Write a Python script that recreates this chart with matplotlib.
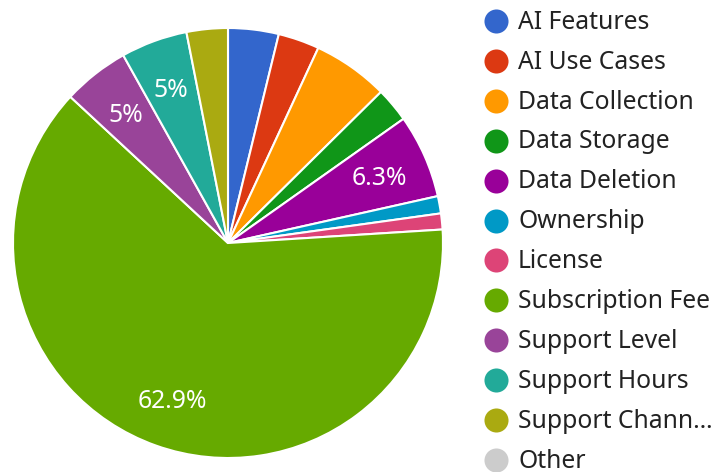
import matplotlib
matplotlib.use("Agg")
import matplotlib.pyplot as plt
import numpy as np

plt.rcParams['font.family'] = ['Noto Sans', 'DejaVu Sans']

# slice labels and shares (percent), clockwise from 12 o'clock
categorias = ["AI Features", "AI Use Cases", "Data Collection", "Data Storage",
              "Data Deletion", "Ownership", "License", "Subscription Fee",
              "Support Level", "Support Hours", "Support Chann…", "Other"]
valores = [3.8, 3.1, 5.7, 2.6, 6.3, 1.3, 1.2, 62.9, 5.0, 5.0, 3.1, 0.0]
cores = ["#3366cc", "#dc3912", "#ff9900", "#109618", "#990099", "#0099c6",
         "#dd4477", "#66aa00", "#994499", "#22aa99", "#aaaa11", "#cccccc"]
# only these slices get a percentage label in the original
rotulados = ["Data Deletion", "Subscription Fee", "Support Level", "Support Hours"]

fig = plt.figure(figsize=(7.12, 4.72), dpi=100)
W, H = 712, 472

# pie: center (228, 243) px, radius 215 px
cx, cy, r = 228, 243, 215
ax = fig.add_axes([(cx - r) / W, (H - cy - r) / H, 2 * r / W, 2 * r / H])

# pie only the non-empty slices
idx = [i for i, v in enumerate(valores) if v > 0]
vals = [valores[i] for i in idx]
wedges, _ = ax.pie(vals, colors=[cores[i] for i in idx], startangle=90,
                   counterclock=False, radius=1,
                   wedgeprops=dict(edgecolor="white", linewidth=1.5))

total = sum(vals)
acc = 0
for i, v in zip(idx, vals):
    meio = (acc + v / 2) / total
    acc += v
    if categorias[i] in rotulados:
        ang = np.pi / 2 - 2 * np.pi * meio
        d = 0.77
        txt = f"{valores[i]:g}%"
        ax.text(d * np.cos(ang), d * np.sin(ang), txt, color="white",
                fontsize=17.8, ha="center", va="center_baseline")
ax.set_xlim(-1, 1)
ax.set_ylim(-1, 1)
ax.axis("off")

# legend drawn by hand, rows ~40 px apart
lg = fig.add_axes([0, 0, 1, 1])
lg.set_xlim(0, W)
lg.set_ylim(H, 0)
lg.axis("off")
for k, (nome, cor) in enumerate(zip(categorias, cores)):
    y = 21 + 39.9 * k
    lg.scatter([496], [y], s=300, color=cor, linewidths=0)
    lg.text(518, y + 7.8, nome, fontsize=17.8, color="#222222",
            va="baseline", ha="left")

fig.savefig("out.png", dpi=100)
